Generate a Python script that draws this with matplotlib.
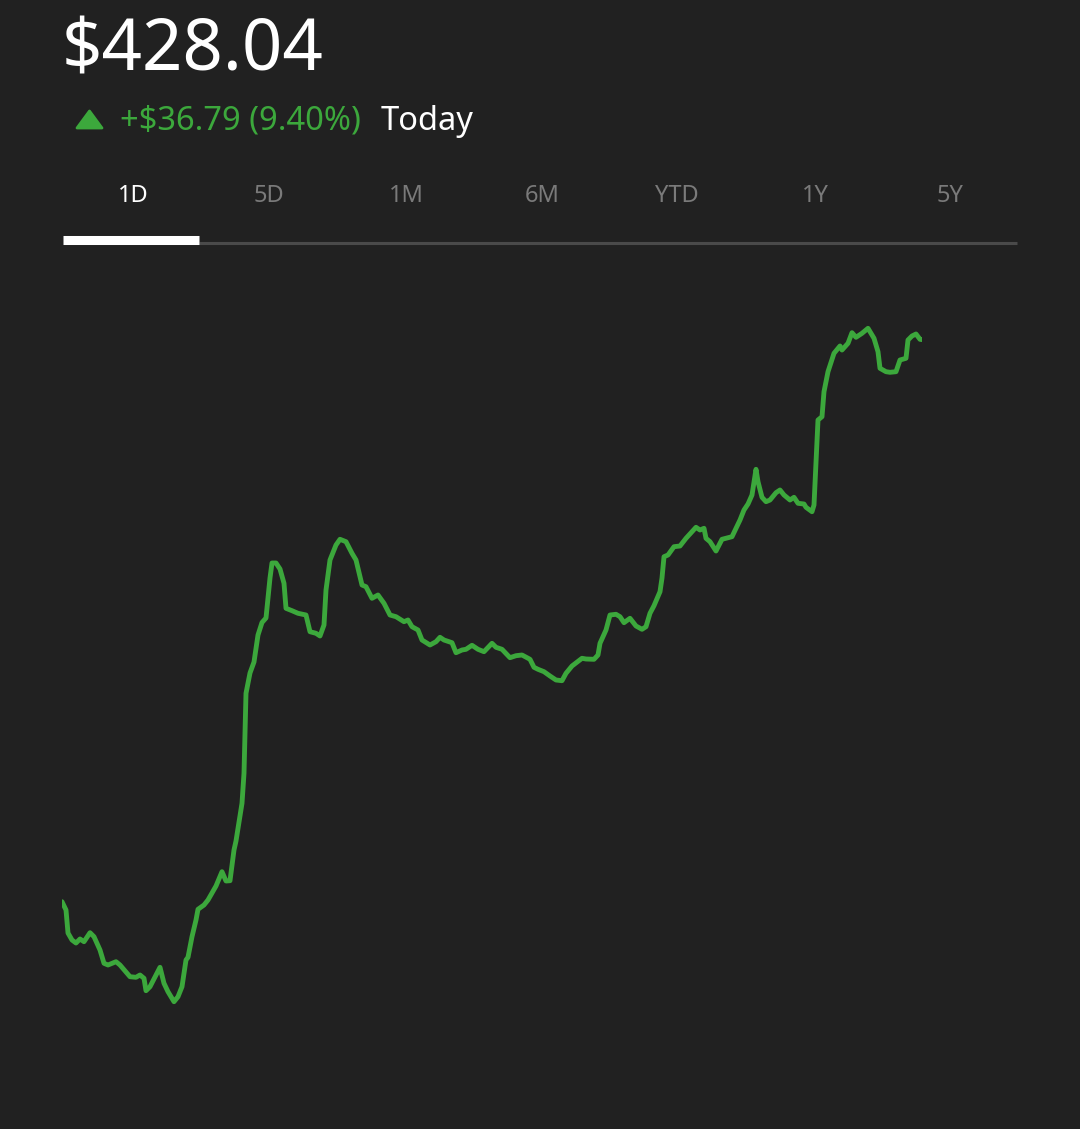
import matplotlib.pyplot as plt
from matplotlib.patches import Polygon

# intraday series: minutes since open and price
minutes = [0, 2, 3, 5, 7, 9, 11, 14, 16, 19, 21, 23, 27, 29, 34, 37, 39, 41, 42, 44,
           47, 49, 51, 53, 56, 58, 60, 62, 63, 65, 67, 68, 71, 73, 77, 80, 82, 84, 86, 87,
           90, 91, 92, 94, 96, 98, 100, 102, 104, 105, 107, 109, 111, 112, 115, 118, 122, 124, 127, 129,
           131, 132, 134, 137, 139, 142, 145, 147, 150, 152, 155, 158, 161, 164, 167, 171, 173, 175, 178, 180,
           184, 187, 189, 191, 195, 197, 200, 202, 205, 208, 211, 215, 217, 220, 224, 227, 230, 234, 236, 238,
           241, 244, 247, 250, 252, 255, 260, 262, 266, 268, 269, 272, 274, 277, 279, 281, 284, 287, 290, 292,
           294, 296, 299, 300, 301, 303, 306, 309, 312, 317, 319, 321, 322, 324, 327, 330, 332, 335, 339, 341,
           343, 345, 347, 348, 350, 352, 354, 357, 359, 361, 364, 366, 368, 371, 372, 375, 376, 378, 380, 381,
           383, 386, 389, 390, 393, 395, 397, 400, 403, 406, 408, 409, 412, 414, 417, 419, 422, 423, 425, 427,
           429, 430]
prices = [371.83, 371.00, 368.70, 368.00, 367.70, 368.10, 367.83, 368.73, 368.33, 367.00,
          365.67, 365.50, 365.83, 365.50, 364.33, 364.27, 364.50, 364.17, 362.93, 363.33,
          364.50, 365.27, 363.67, 362.83, 361.83, 362.33, 363.33, 366.00, 366.27, 368.33,
          370.00, 371.07, 371.50, 372.00, 373.40, 374.83, 373.90, 373.93, 377.00, 377.90,
          381.67, 384.67, 392.67, 394.70, 395.80, 398.50, 399.75, 400.20, 404.20, 405.70,
          405.70, 405.10, 403.67, 401.17, 400.93, 400.67, 400.50, 398.83, 398.67, 398.40,
          399.50, 403.00, 406.00, 407.50, 408.07, 407.83, 406.67, 406.00, 403.50, 403.33,
          402.17, 402.50, 401.67, 400.50, 400.33, 399.83, 400.00, 399.33, 399.00, 398.00,
          397.50, 397.83, 398.27, 398.00, 397.73, 396.73, 397.00, 397.07, 397.47, 397.07,
          396.83, 397.67, 397.27, 397.07, 396.23, 396.43, 396.50, 396.07, 395.27, 395.07,
          394.83, 394.40, 394.00, 393.93, 394.67, 395.40, 396.17, 396.10, 396.07, 396.50,
          397.67, 399.00, 400.50, 400.57, 400.33, 399.73, 400.17, 399.40, 399.07, 399.33,
          400.67, 401.43, 402.83, 404.20, 406.33, 406.50, 407.33, 407.40, 408.17, 409.27,
          409.00, 409.17, 408.17, 407.83, 406.90, 408.07, 408.17, 408.33, 410.00, 411.00,
          411.60, 412.50, 415.07, 413.83, 412.27, 411.83, 412.00, 412.73, 413.00, 412.50,
          412.00, 412.27, 411.67, 411.60, 411.27, 410.83, 411.50, 420.00, 420.33, 422.83,
          424.83, 426.67, 427.40, 427.00, 427.67, 428.73, 428.27, 428.67, 429.17, 428.17,
          426.83, 425.17, 424.83, 424.77, 424.83, 426.00, 426.17, 428.00, 428.40, 428.60,
          428.07, 428.04]

price_text = "$428.04"
change_text = "+$36.79 (9.40%)"
period_text = "Today"
tab_labels = ["1D", "5D", "1M", "6M", "YTD", "1Y", "5Y"]
active_tab = "1D"

BG = "#212121"
GREEN = "#3ca83c"
W, H = 1080, 1129
FONT = ["Noto Sans", "DejaVu Sans"]

fig = plt.figure(figsize=(W / 100, H / 100), dpi=100, facecolor=BG)

# header / tabs drawn on a pixel-space overlay
ov = fig.add_axes([0, 0, 1, 1])
ov.set_xlim(0, W)
ov.set_ylim(H, 0)
ov.axis("off")
ov.set_facecolor(BG)

ov.text(62, 52, price_text, color="white", fontsize=51, family=FONT, va="center", ha="left")
ov.add_patch(Polygon([(77, 128), (102, 128), (89.5, 111)], closed=True,
                     facecolor=GREEN, edgecolor=GREEN, lw=2, joinstyle="round"))
ov.text(120, 121, change_text, color=GREEN, fontsize=23.5, family=FONT, va="center", ha="left")
ov.text(381, 121, period_text, color="white", fontsize=23.5, family=FONT, va="center", ha="left")

tab_x = [133, 269, 406, 542, 677, 815, 950]
for lab, x in zip(tab_labels, tab_x):
    ov.text(x, 196, lab, color="white" if lab == active_tab else "#7a7a7a", fontsize=17,
            family=FONT, ha="center", va="center")
ov.plot([199, 1017], [242.5, 242.5], color="#4a4a4a", lw=2.2, solid_capstyle="butt")
ov.plot([63, 199], [239.5, 239.5], color="white", lw=6.5, solid_capstyle="butt")

# price line
ax = fig.add_axes([62 / W, 1 - 1050 / H, 860 / W, 750 / H])
ax.set_facecolor("none")
ax.plot(minutes, prices, color=GREEN, lw=3.5, solid_joinstyle="round", solid_capstyle="round")
ax.set_xlim(0, 430)
ax.set_ylim(357, 432)
ax.axis("off")

fig.savefig("out.png", dpi=100, facecolor=BG)
